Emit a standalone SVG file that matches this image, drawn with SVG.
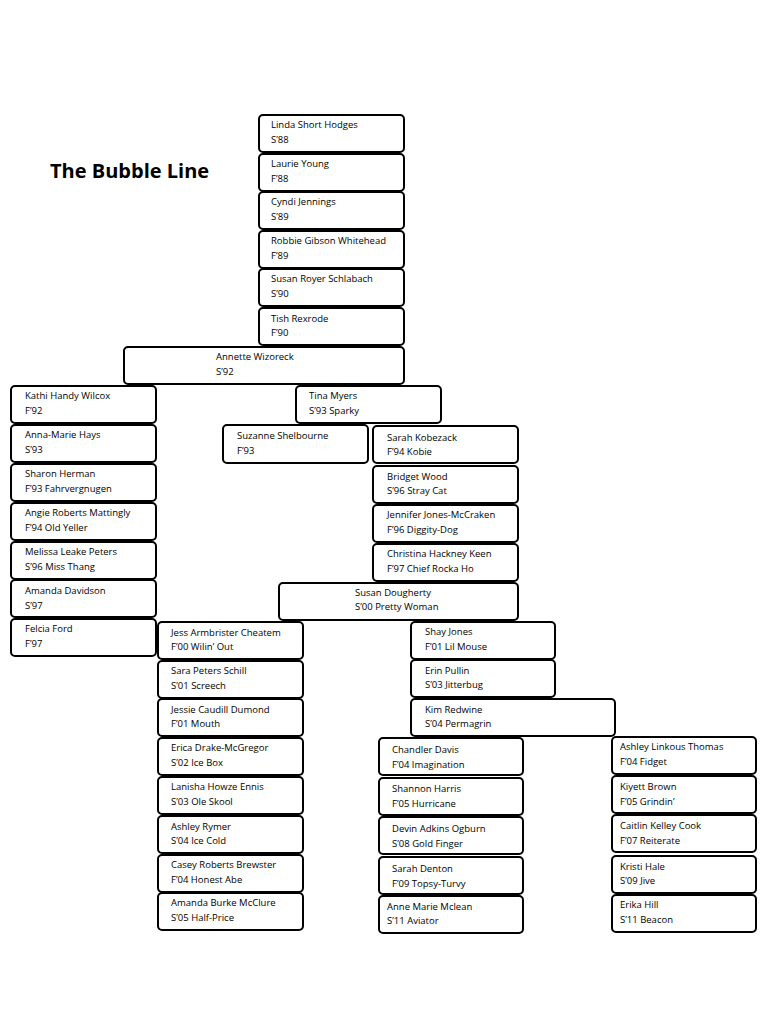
<svg xmlns="http://www.w3.org/2000/svg" width="768" height="1024" viewBox="0 0 768 1024">
<style>
rect{fill:#fff;stroke:#000;stroke-width:2}
text{font-family:"Open Sans","Liberation Sans",sans-serif;font-size:9.5px;fill:#000}
.t{font-size:20px;font-weight:bold}
</style>
<rect x="0" y="0" width="768" height="1024" style="stroke:none"/>
<text class="t" x="50" y="178">The Bubble Line</text>
<g id="connectors"></g>
<g id="n1"><rect x="259" y="115" width="145" height="37" rx="4"/><text x="271" y="128">Linda Short Hodges</text><text x="271" y="143">S’88</text></g>
<g id="n2"><rect x="259" y="154" width="145" height="37" rx="4"/><text x="271" y="167">Laurie Young</text><text x="271" y="182">F’88</text></g>
<g id="n3"><rect x="259" y="192" width="145" height="37" rx="4"/><text x="271" y="205">Cyndi Jennings</text><text x="271" y="220">S’89</text></g>
<g id="n4"><rect x="259" y="231" width="145" height="37" rx="4"/><text x="271" y="244">Robbie Gibson Whitehead</text><text x="271" y="259">F’89</text></g>
<g id="n5"><rect x="259" y="269" width="145" height="37" rx="4"/><text x="271" y="282">Susan Royer Schlabach</text><text x="271" y="297">S’90</text></g>
<g id="n6"><rect x="259" y="308" width="145" height="37" rx="4"/><text x="271" y="322">Tish Rexrode</text><text x="271" y="336">F’90</text></g>
<g id="n7"><rect x="124" y="347" width="280" height="37" rx="4"/><text x="216" y="360">Annette Wizoreck</text><text x="216" y="375">S’92</text></g>
<g id="n8"><rect x="11" y="386" width="145" height="37" rx="4"/><text x="25" y="399">Kathi Handy Wilcox</text><text x="25" y="414">F’92</text></g>
<g id="n9"><rect x="11" y="425" width="145" height="37" rx="4"/><text x="25" y="438">Anna-Marie Hays</text><text x="25" y="453">S’93</text></g>
<g id="n10"><rect x="11" y="464" width="145" height="37" rx="4"/><text x="25" y="477">Sharon Herman</text><text x="25" y="492">F’93 Fahrvergnugen</text></g>
<g id="n11"><rect x="11" y="503" width="145" height="37" rx="4"/><text x="25" y="516">Angie Roberts Mattingly</text><text x="25" y="531">F’94 Old Yeller</text></g>
<g id="n12"><rect x="11" y="542" width="145" height="37" rx="4"/><text x="25" y="555">Melissa Leake Peters</text><text x="25" y="570">S’96 Miss Thang</text></g>
<g id="n13"><rect x="11" y="580" width="145" height="37" rx="4"/><text x="25" y="594">Amanda Davidson</text><text x="25" y="609">S’97</text></g>
<g id="n14"><rect x="11" y="619" width="145" height="37" rx="4"/><text x="25" y="632">Felcia Ford</text><text x="25" y="647">F’97</text></g>
<g id="n15"><rect x="296" y="386" width="145" height="37" rx="4"/><text x="309" y="399">Tina Myers</text><text x="309" y="414">S’93 Sparky</text></g>
<g id="n16"><rect x="223" y="425" width="145" height="38" rx="4"/><text x="237" y="439">Suzanne Shelbourne</text><text x="237" y="454">F’93</text></g>
<g id="n17"><rect x="373" y="426" width="145" height="37" rx="4"/><text x="387" y="441">Sarah Kobezack</text><text x="387" y="455">F’94 Kobie</text></g>
<g id="n18"><rect x="373" y="466" width="145" height="37" rx="4"/><text x="387" y="480">Bridget Wood</text><text x="387" y="494">S’96 Stray Cat</text></g>
<g id="n19"><rect x="373" y="505" width="145" height="37" rx="4"/><text x="387" y="518">Jennifer Jones-McCraken</text><text x="387" y="533">F’96 Diggity-Dog</text></g>
<g id="n20"><rect x="373" y="544" width="145" height="37" rx="4"/><text x="387" y="557">Christina Hackney Keen</text><text x="387" y="572">F’97 Chief Rocka Ho</text></g>
<g id="n21"><rect x="279" y="583" width="239" height="37" rx="4"/><text x="355" y="596">Susan Dougherty</text><text x="355" y="610">S’00 Pretty Woman</text></g>
<g id="n22"><rect x="158" y="622" width="145" height="37" rx="4"/><text x="171" y="636">Jess Armbrister Cheatem</text><text x="171" y="650">F’00 Wilin’ Out</text></g>
<g id="n23"><rect x="158" y="661" width="145" height="37" rx="4"/><text x="171" y="674">Sara Peters Schill</text><text x="171" y="689">S’01 Screech</text></g>
<g id="n24"><rect x="158" y="699" width="145" height="37" rx="4"/><text x="171" y="713">Jessie Caudill Dumond</text><text x="171" y="727">F’01 Mouth</text></g>
<g id="n25"><rect x="158" y="738" width="145" height="37" rx="4"/><text x="171" y="751">Erica Drake-McGregor</text><text x="171" y="766">S’02 Ice Box</text></g>
<g id="n26"><rect x="158" y="777" width="145" height="37" rx="4"/><text x="171" y="790">Lanisha Howze Ennis</text><text x="171" y="805">S’03 Ole Skool</text></g>
<g id="n27"><rect x="158" y="816" width="145" height="37" rx="4"/><text x="171" y="830">Ashley Rymer</text><text x="171" y="844">S’04 Ice Cold</text></g>
<g id="n28"><rect x="158" y="855" width="145" height="37" rx="4"/><text x="171" y="868">Casey Roberts Brewster</text><text x="171" y="883">F’04 Honest Abe</text></g>
<g id="n29"><rect x="158" y="893" width="145" height="37" rx="4"/><text x="171" y="906">Amanda Burke McClure</text><text x="171" y="921">S’05 Half-Price</text></g>
<g id="n30"><rect x="411" y="622" width="144" height="37" rx="4"/><text x="425" y="635">Shay Jones</text><text x="425" y="650">F’01 Lil Mouse</text></g>
<g id="n31"><rect x="411" y="660" width="144" height="37" rx="4"/><text x="425" y="674">Erin Pullin</text><text x="425" y="688">S’03 Jitterbug</text></g>
<g id="n32"><rect x="411" y="699" width="204" height="37" rx="4"/><text x="425" y="713">Kim Redwine</text><text x="425" y="727">S’04 Permagrin</text></g>
<g id="n33"><rect x="379" y="738" width="144" height="37" rx="4"/><text x="392" y="753">Chandler Davis</text><text x="392" y="768">F’04 Imagination</text></g>
<g id="n34"><rect x="379" y="778" width="144" height="37" rx="4"/><text x="392" y="792">Shannon Harris</text><text x="392" y="807">F’05 Hurricane</text></g>
<g id="n35"><rect x="379" y="817" width="144" height="37" rx="4"/><text x="392" y="832">Devin Adkins Ogburn</text><text x="392" y="847">S’08 Gold Finger</text></g>
<g id="n36"><rect x="379" y="857" width="144" height="37" rx="4"/><text x="392" y="872">Sarah Denton</text><text x="392" y="887">F’09 Topsy-Turvy</text></g>
<g id="n37"><rect x="379" y="896" width="144" height="37" rx="4"/><text x="387" y="910">Anne Marie Mclean</text><text x="387" y="924">S’11 Aviator</text></g>
<g id="n38"><rect x="612" y="737" width="144" height="37" rx="4"/><text x="620" y="750">Ashley Linkous Thomas</text><text x="620" y="765">F’04 Fidget</text></g>
<g id="n39"><rect x="612" y="776" width="144" height="37" rx="4"/><text x="620" y="790">Kiyett Brown</text><text x="620" y="805">F’05 Grindin’</text></g>
<g id="n40"><rect x="612" y="815" width="144" height="37" rx="4"/><text x="620" y="829">Caitlin Kelley Cook</text><text x="620" y="844">F’07 Reiterate</text></g>
<g id="n41"><rect x="612" y="856" width="144" height="37" rx="4"/><text x="620" y="870">Kristi Hale</text><text x="620" y="884">S’09 Jive</text></g>
<g id="n42"><rect x="612" y="895" width="144" height="37" rx="4"/><text x="620" y="908">Erika Hill</text><text x="620" y="923">S’11 Beacon</text></g>
</svg>
